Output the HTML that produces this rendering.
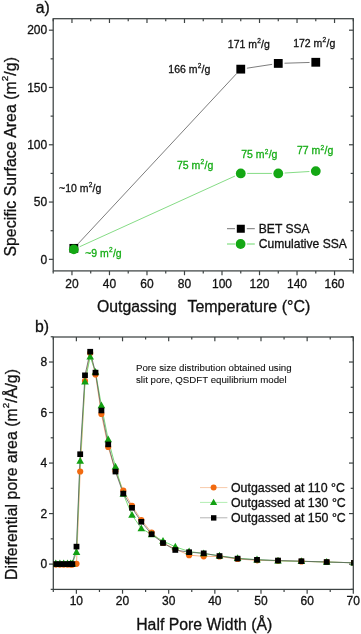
<!DOCTYPE html>
<html><head><meta charset="utf-8"><style>
html,body{margin:0;padding:0;background:#fff;overflow:hidden;}
svg{display:block;will-change:transform;}
text{font-family:"Liberation Sans", sans-serif;stroke-width:0.3px;stroke:#111;}
text.gr{fill:#17ad17;stroke:#17ad17;}
</style></head><body>
<svg width="361" height="634" viewBox="0 0 361 634">
<rect width="361" height="634" fill="#fff"/><g fill="#111" color="#111">
<rect x="53.2" y="18.7" width="300.10" height="252.20" fill="none" stroke="#3d4343" stroke-width="1.25"/>
<line x1="53.20" y1="270.9" x2="53.20" y2="273.5" stroke="#3d4343" stroke-width="1.2"/>
<line x1="53.20" y1="18.7" x2="53.20" y2="21.3" stroke="#3d4343" stroke-width="1.2"/>
<line x1="71.96" y1="270.9" x2="71.96" y2="275.2" stroke="#3d4343" stroke-width="1.2"/>
<line x1="71.96" y1="18.7" x2="71.96" y2="23.0" stroke="#3d4343" stroke-width="1.2"/>
<text x="71.96" y="287.6" font-size="12" text-anchor="middle">20</text>
<line x1="90.71" y1="270.9" x2="90.71" y2="273.5" stroke="#3d4343" stroke-width="1.2"/>
<line x1="90.71" y1="18.7" x2="90.71" y2="21.3" stroke="#3d4343" stroke-width="1.2"/>
<line x1="109.47" y1="270.9" x2="109.47" y2="275.2" stroke="#3d4343" stroke-width="1.2"/>
<line x1="109.47" y1="18.7" x2="109.47" y2="23.0" stroke="#3d4343" stroke-width="1.2"/>
<text x="109.47" y="287.6" font-size="12" text-anchor="middle">40</text>
<line x1="128.22" y1="270.9" x2="128.22" y2="273.5" stroke="#3d4343" stroke-width="1.2"/>
<line x1="128.22" y1="18.7" x2="128.22" y2="21.3" stroke="#3d4343" stroke-width="1.2"/>
<line x1="146.98" y1="270.9" x2="146.98" y2="275.2" stroke="#3d4343" stroke-width="1.2"/>
<line x1="146.98" y1="18.7" x2="146.98" y2="23.0" stroke="#3d4343" stroke-width="1.2"/>
<text x="146.98" y="287.6" font-size="12" text-anchor="middle">60</text>
<line x1="165.74" y1="270.9" x2="165.74" y2="273.5" stroke="#3d4343" stroke-width="1.2"/>
<line x1="165.74" y1="18.7" x2="165.74" y2="21.3" stroke="#3d4343" stroke-width="1.2"/>
<line x1="184.49" y1="270.9" x2="184.49" y2="275.2" stroke="#3d4343" stroke-width="1.2"/>
<line x1="184.49" y1="18.7" x2="184.49" y2="23.0" stroke="#3d4343" stroke-width="1.2"/>
<text x="184.49" y="287.6" font-size="12" text-anchor="middle">80</text>
<line x1="203.25" y1="270.9" x2="203.25" y2="273.5" stroke="#3d4343" stroke-width="1.2"/>
<line x1="203.25" y1="18.7" x2="203.25" y2="21.3" stroke="#3d4343" stroke-width="1.2"/>
<line x1="222.00" y1="270.9" x2="222.00" y2="275.2" stroke="#3d4343" stroke-width="1.2"/>
<line x1="222.00" y1="18.7" x2="222.00" y2="23.0" stroke="#3d4343" stroke-width="1.2"/>
<text x="222.00" y="287.6" font-size="12" text-anchor="middle">100</text>
<line x1="240.76" y1="270.9" x2="240.76" y2="273.5" stroke="#3d4343" stroke-width="1.2"/>
<line x1="240.76" y1="18.7" x2="240.76" y2="21.3" stroke="#3d4343" stroke-width="1.2"/>
<line x1="259.52" y1="270.9" x2="259.52" y2="275.2" stroke="#3d4343" stroke-width="1.2"/>
<line x1="259.52" y1="18.7" x2="259.52" y2="23.0" stroke="#3d4343" stroke-width="1.2"/>
<text x="259.52" y="287.6" font-size="12" text-anchor="middle">120</text>
<line x1="278.27" y1="270.9" x2="278.27" y2="273.5" stroke="#3d4343" stroke-width="1.2"/>
<line x1="278.27" y1="18.7" x2="278.27" y2="21.3" stroke="#3d4343" stroke-width="1.2"/>
<line x1="297.03" y1="270.9" x2="297.03" y2="275.2" stroke="#3d4343" stroke-width="1.2"/>
<line x1="297.03" y1="18.7" x2="297.03" y2="23.0" stroke="#3d4343" stroke-width="1.2"/>
<text x="297.03" y="287.6" font-size="12" text-anchor="middle">140</text>
<line x1="315.78" y1="270.9" x2="315.78" y2="273.5" stroke="#3d4343" stroke-width="1.2"/>
<line x1="315.78" y1="18.7" x2="315.78" y2="21.3" stroke="#3d4343" stroke-width="1.2"/>
<line x1="334.54" y1="270.9" x2="334.54" y2="275.2" stroke="#3d4343" stroke-width="1.2"/>
<line x1="334.54" y1="18.7" x2="334.54" y2="23.0" stroke="#3d4343" stroke-width="1.2"/>
<text x="334.54" y="287.6" font-size="12" text-anchor="middle">160</text>
<line x1="353.30" y1="270.9" x2="353.30" y2="273.5" stroke="#3d4343" stroke-width="1.2"/>
<line x1="353.30" y1="18.7" x2="353.30" y2="21.3" stroke="#3d4343" stroke-width="1.2"/>
<line x1="48.900000000000006" y1="259.35" x2="53.2" y2="259.35" stroke="#3d4343" stroke-width="1.2"/>
<line x1="349.0" y1="259.35" x2="353.3" y2="259.35" stroke="#3d4343" stroke-width="1.2"/>
<text x="47.2" y="263.65" font-size="12" text-anchor="end">0</text>
<line x1="50.6" y1="230.71" x2="53.2" y2="230.71" stroke="#3d4343" stroke-width="1.2"/>
<line x1="350.7" y1="230.71" x2="353.3" y2="230.71" stroke="#3d4343" stroke-width="1.2"/>
<line x1="48.900000000000006" y1="202.06" x2="53.2" y2="202.06" stroke="#3d4343" stroke-width="1.2"/>
<line x1="349.0" y1="202.06" x2="353.3" y2="202.06" stroke="#3d4343" stroke-width="1.2"/>
<text x="47.2" y="206.36" font-size="12" text-anchor="end">50</text>
<line x1="50.6" y1="173.42" x2="53.2" y2="173.42" stroke="#3d4343" stroke-width="1.2"/>
<line x1="350.7" y1="173.42" x2="353.3" y2="173.42" stroke="#3d4343" stroke-width="1.2"/>
<line x1="48.900000000000006" y1="144.77" x2="53.2" y2="144.77" stroke="#3d4343" stroke-width="1.2"/>
<line x1="349.0" y1="144.77" x2="353.3" y2="144.77" stroke="#3d4343" stroke-width="1.2"/>
<text x="47.2" y="149.07" font-size="12" text-anchor="end">100</text>
<line x1="50.6" y1="116.13" x2="53.2" y2="116.13" stroke="#3d4343" stroke-width="1.2"/>
<line x1="350.7" y1="116.13" x2="353.3" y2="116.13" stroke="#3d4343" stroke-width="1.2"/>
<line x1="48.900000000000006" y1="87.48" x2="53.2" y2="87.48" stroke="#3d4343" stroke-width="1.2"/>
<line x1="349.0" y1="87.48" x2="353.3" y2="87.48" stroke="#3d4343" stroke-width="1.2"/>
<text x="47.2" y="91.78" font-size="12" text-anchor="end">150</text>
<line x1="50.6" y1="58.84" x2="53.2" y2="58.84" stroke="#3d4343" stroke-width="1.2"/>
<line x1="350.7" y1="58.84" x2="353.3" y2="58.84" stroke="#3d4343" stroke-width="1.2"/>
<line x1="48.900000000000006" y1="30.19" x2="53.2" y2="30.19" stroke="#3d4343" stroke-width="1.2"/>
<line x1="349.0" y1="30.19" x2="353.3" y2="30.19" stroke="#3d4343" stroke-width="1.2"/>
<text x="47.2" y="34.49" font-size="12" text-anchor="end">200</text>
<line x1="78.06" y1="243.81" x2="236.53" y2="73.68" stroke="#6e6e6e" stroke-width="0.9"/>
<line x1="246.89" y1="68.21" x2="272.14" y2="64.35" stroke="#6e6e6e" stroke-width="0.9"/>
<line x1="284.47" y1="63.23" x2="309.59" y2="62.46" stroke="#6e6e6e" stroke-width="0.9"/>
<line x1="79.66" y1="246.73" x2="234.93" y2="176.07" stroke="#86dc86" stroke-width="1.0"/>
<line x1="247.16" y1="173.42" x2="271.87" y2="173.42" stroke="#86dc86" stroke-width="1.0"/>
<line x1="284.66" y1="173.02" x2="309.40" y2="171.51" stroke="#86dc86" stroke-width="1.0"/>
<rect x="69.43" y="243.95" width="8.8" height="8.8" fill="#000"/>
<rect x="236.36" y="64.75" width="8.8" height="8.8" fill="#000"/>
<rect x="273.87" y="59.02" width="8.8" height="8.8" fill="#000"/>
<rect x="311.38" y="57.87" width="8.8" height="8.8" fill="#000"/>
<circle cx="73.83" cy="249.38" r="4.9" fill="#14a814"/>
<circle cx="240.76" cy="173.42" r="4.9" fill="#14a814"/>
<circle cx="278.27" cy="173.42" r="4.9" fill="#14a814"/>
<circle cx="315.78" cy="171.12" r="4.9" fill="#14a814"/>
<text x="59.0" y="192.3" font-size="10.5">~10 m<tspan font-size="6.51" dy="-4.9" dx="0.2">2</tspan><tspan dy="4.9" dx="0.3">/g</tspan></text>
<text x="168.3" y="73.3" font-size="10.5">166 m<tspan font-size="6.51" dy="-4.9" dx="0.2">2</tspan><tspan dy="4.9" dx="0.3">/g</tspan></text>
<text x="227.8" y="47.6" font-size="10.5">171 m<tspan font-size="6.51" dy="-4.9" dx="0.2">2</tspan><tspan dy="4.9" dx="0.3">/g</tspan></text>
<text x="293.2" y="47.2" font-size="10.5">172 m<tspan font-size="6.51" dy="-4.9" dx="0.2">2</tspan><tspan dy="4.9" dx="0.3">/g</tspan></text>
<text class="gr" x="85.2" y="257.2" font-size="10.5">~9 m<tspan font-size="6.51" dy="-4.9" dx="0.2">2</tspan><tspan dy="4.9" dx="0.3">/g</tspan></text>
<text class="gr" x="177.0" y="169.3" font-size="10.5">75 m<tspan font-size="6.51" dy="-4.9" dx="0.2">2</tspan><tspan dy="4.9" dx="0.3">/g</tspan></text>
<text class="gr" x="241.2" y="158.4" font-size="10.5">75 m<tspan font-size="6.51" dy="-4.9" dx="0.2">2</tspan><tspan dy="4.9" dx="0.3">/g</tspan></text>
<text class="gr" x="297.0" y="154.4" font-size="10.5">77 m<tspan font-size="6.51" dy="-4.9" dx="0.2">2</tspan><tspan dy="4.9" dx="0.3">/g</tspan></text>
<line x1="227" y1="228.7" x2="235" y2="228.7" stroke="#777" stroke-width="1"/>
<line x1="246.8" y1="228.7" x2="254.8" y2="228.7" stroke="#777" stroke-width="1"/>
<rect x="236.8" y="224.75" width="8" height="8" fill="#000"/>
<line x1="227" y1="244" x2="235" y2="244" stroke="#6ad86a" stroke-width="1"/>
<line x1="246.8" y1="244" x2="254.8" y2="244" stroke="#6ad86a" stroke-width="1"/>
<circle cx="240.6" cy="244" r="4.9" fill="#14a814"/>
<text x="258.8" y="232.6" font-size="12.1">BET SSA</text>
<text x="258.8" y="248.2" font-size="12.1">Cumulative SSA</text>
<text x="35.8" y="13.4" font-size="15.8">a)</text>
<text x="97" y="311.9" font-size="15.8">Outgassing</text>
<text x="187.4" y="311.9" font-size="16.0">Temperature (°C)</text>
<text transform="translate(15.6,256.6) rotate(-90)" font-size="15.8" textLength="199.5" lengthAdjust="spacing">Specific Surface Area (m<tspan font-size="9.8" dy="-7.3">2</tspan><tspan dy="7.3">/g)</tspan></text>
<rect x="53.3" y="337.0" width="300.00" height="252.40" fill="none" stroke="#3d4343" stroke-width="1.25"/>
<line x1="53.30" y1="589.4" x2="53.30" y2="592.0" stroke="#3d4343" stroke-width="1.2"/>
<line x1="53.30" y1="337.0" x2="53.30" y2="339.6" stroke="#3d4343" stroke-width="1.2"/>
<line x1="76.38" y1="589.4" x2="76.38" y2="593.6999999999999" stroke="#3d4343" stroke-width="1.2"/>
<line x1="76.38" y1="337.0" x2="76.38" y2="341.3" stroke="#3d4343" stroke-width="1.2"/>
<text x="76.38" y="605.2" font-size="12" text-anchor="middle">10</text>
<line x1="99.45" y1="589.4" x2="99.45" y2="592.0" stroke="#3d4343" stroke-width="1.2"/>
<line x1="99.45" y1="337.0" x2="99.45" y2="339.6" stroke="#3d4343" stroke-width="1.2"/>
<line x1="122.53" y1="589.4" x2="122.53" y2="593.6999999999999" stroke="#3d4343" stroke-width="1.2"/>
<line x1="122.53" y1="337.0" x2="122.53" y2="341.3" stroke="#3d4343" stroke-width="1.2"/>
<text x="122.53" y="605.2" font-size="12" text-anchor="middle">20</text>
<line x1="145.61" y1="589.4" x2="145.61" y2="592.0" stroke="#3d4343" stroke-width="1.2"/>
<line x1="145.61" y1="337.0" x2="145.61" y2="339.6" stroke="#3d4343" stroke-width="1.2"/>
<line x1="168.69" y1="589.4" x2="168.69" y2="593.6999999999999" stroke="#3d4343" stroke-width="1.2"/>
<line x1="168.69" y1="337.0" x2="168.69" y2="341.3" stroke="#3d4343" stroke-width="1.2"/>
<text x="168.69" y="605.2" font-size="12" text-anchor="middle">30</text>
<line x1="191.76" y1="589.4" x2="191.76" y2="592.0" stroke="#3d4343" stroke-width="1.2"/>
<line x1="191.76" y1="337.0" x2="191.76" y2="339.6" stroke="#3d4343" stroke-width="1.2"/>
<line x1="214.84" y1="589.4" x2="214.84" y2="593.6999999999999" stroke="#3d4343" stroke-width="1.2"/>
<line x1="214.84" y1="337.0" x2="214.84" y2="341.3" stroke="#3d4343" stroke-width="1.2"/>
<text x="214.84" y="605.2" font-size="12" text-anchor="middle">40</text>
<line x1="237.92" y1="589.4" x2="237.92" y2="592.0" stroke="#3d4343" stroke-width="1.2"/>
<line x1="237.92" y1="337.0" x2="237.92" y2="339.6" stroke="#3d4343" stroke-width="1.2"/>
<line x1="260.99" y1="589.4" x2="260.99" y2="593.6999999999999" stroke="#3d4343" stroke-width="1.2"/>
<line x1="260.99" y1="337.0" x2="260.99" y2="341.3" stroke="#3d4343" stroke-width="1.2"/>
<text x="260.99" y="605.2" font-size="12" text-anchor="middle">50</text>
<line x1="284.07" y1="589.4" x2="284.07" y2="592.0" stroke="#3d4343" stroke-width="1.2"/>
<line x1="284.07" y1="337.0" x2="284.07" y2="339.6" stroke="#3d4343" stroke-width="1.2"/>
<line x1="307.15" y1="589.4" x2="307.15" y2="593.6999999999999" stroke="#3d4343" stroke-width="1.2"/>
<line x1="307.15" y1="337.0" x2="307.15" y2="341.3" stroke="#3d4343" stroke-width="1.2"/>
<text x="307.15" y="605.2" font-size="12" text-anchor="middle">60</text>
<line x1="330.22" y1="589.4" x2="330.22" y2="592.0" stroke="#3d4343" stroke-width="1.2"/>
<line x1="330.22" y1="337.0" x2="330.22" y2="339.6" stroke="#3d4343" stroke-width="1.2"/>
<line x1="353.30" y1="589.4" x2="353.30" y2="593.6999999999999" stroke="#3d4343" stroke-width="1.2"/>
<line x1="353.30" y1="337.0" x2="353.30" y2="341.3" stroke="#3d4343" stroke-width="1.2"/>
<text x="353.30" y="605.2" font-size="12" text-anchor="middle">70</text>
<line x1="50.699999999999996" y1="589.36" x2="53.3" y2="589.36" stroke="#3d4343" stroke-width="1.2"/>
<line x1="350.7" y1="589.36" x2="353.3" y2="589.36" stroke="#3d4343" stroke-width="1.2"/>
<line x1="49.0" y1="564.10" x2="53.3" y2="564.10" stroke="#3d4343" stroke-width="1.2"/>
<line x1="349.0" y1="564.10" x2="353.3" y2="564.10" stroke="#3d4343" stroke-width="1.2"/>
<text x="47.2" y="568.40" font-size="12" text-anchor="end">0</text>
<line x1="50.699999999999996" y1="538.84" x2="53.3" y2="538.84" stroke="#3d4343" stroke-width="1.2"/>
<line x1="350.7" y1="538.84" x2="353.3" y2="538.84" stroke="#3d4343" stroke-width="1.2"/>
<line x1="49.0" y1="513.58" x2="53.3" y2="513.58" stroke="#3d4343" stroke-width="1.2"/>
<line x1="349.0" y1="513.58" x2="353.3" y2="513.58" stroke="#3d4343" stroke-width="1.2"/>
<text x="47.2" y="517.88" font-size="12" text-anchor="end">2</text>
<line x1="50.699999999999996" y1="488.32" x2="53.3" y2="488.32" stroke="#3d4343" stroke-width="1.2"/>
<line x1="350.7" y1="488.32" x2="353.3" y2="488.32" stroke="#3d4343" stroke-width="1.2"/>
<line x1="49.0" y1="463.06" x2="53.3" y2="463.06" stroke="#3d4343" stroke-width="1.2"/>
<line x1="349.0" y1="463.06" x2="353.3" y2="463.06" stroke="#3d4343" stroke-width="1.2"/>
<text x="47.2" y="467.36" font-size="12" text-anchor="end">4</text>
<line x1="50.699999999999996" y1="437.80" x2="53.3" y2="437.80" stroke="#3d4343" stroke-width="1.2"/>
<line x1="350.7" y1="437.80" x2="353.3" y2="437.80" stroke="#3d4343" stroke-width="1.2"/>
<line x1="49.0" y1="412.54" x2="53.3" y2="412.54" stroke="#3d4343" stroke-width="1.2"/>
<line x1="349.0" y1="412.54" x2="353.3" y2="412.54" stroke="#3d4343" stroke-width="1.2"/>
<text x="47.2" y="416.84" font-size="12" text-anchor="end">6</text>
<line x1="50.699999999999996" y1="387.28" x2="53.3" y2="387.28" stroke="#3d4343" stroke-width="1.2"/>
<line x1="350.7" y1="387.28" x2="353.3" y2="387.28" stroke="#3d4343" stroke-width="1.2"/>
<line x1="49.0" y1="362.02" x2="53.3" y2="362.02" stroke="#3d4343" stroke-width="1.2"/>
<line x1="349.0" y1="362.02" x2="353.3" y2="362.02" stroke="#3d4343" stroke-width="1.2"/>
<text x="47.2" y="366.32" font-size="12" text-anchor="end">8</text>
<line x1="50.699999999999996" y1="336.76" x2="53.3" y2="336.76" stroke="#3d4343" stroke-width="1.2"/>
<line x1="350.7" y1="336.76" x2="353.3" y2="336.76" stroke="#3d4343" stroke-width="1.2"/>
<clipPath id="cb"><rect x="53.3" y="337" width="299.6" height="252.4"/></clipPath>
<g clip-path="url(#cb)">
<polyline points="55.80,564.60 59.90,564.60 63.70,564.60 67.50,564.60 70.60,564.60 72.30,564.60 76.50,563.80 80.20,471.50 85.00,381.00 90.20,353.00 95.50,374.50 101.40,414.00 108.20,447.00 115.50,471.00 123.30,490.50 132.00,505.80 141.30,520.00 151.60,532.50 163.00,543.00 175.30,549.00 189.10,555.20 203.70,556.30 219.50,556.50 237.60,559.00 257.00,560.30 278.00,560.80 301.40,561.40 326.70,562.00 354.00,562.80" fill="none" stroke="#f4ac7a" stroke-width="0.9"/>
<polyline points="55.80,563.60 59.90,563.60 63.70,563.60 67.50,563.60 70.60,563.60 72.30,563.60 76.50,552.20 80.20,461.00 85.00,381.80 90.20,356.70 95.50,372.00 101.40,405.50 108.20,439.50 115.50,466.80 123.30,494.00 132.00,515.00 141.30,528.40 151.60,534.50 163.00,541.00 175.30,546.80 189.10,551.50 203.70,553.50 219.50,555.80 237.60,558.30 257.00,559.60 278.00,560.80 301.40,561.30 326.70,562.00 354.00,562.80" fill="none" stroke="#6ad86a" stroke-width="0.9"/>
<polyline points="55.80,564.10 59.90,564.10 63.70,564.10 67.50,564.10 70.60,564.10 72.30,564.10 76.50,546.60 80.20,454.20 85.00,375.30 90.20,351.70 95.50,372.60 101.40,410.50 108.20,444.40 115.50,471.60 123.30,493.60 132.00,507.80 141.30,521.80 151.60,534.20 163.00,543.00 175.30,550.00 189.10,552.20 203.70,553.30 219.50,556.00 237.60,558.60 257.00,559.80 278.00,560.50 301.40,561.20 326.70,562.00 354.00,562.80" fill="none" stroke="#5a5a5a" stroke-width="0.8"/>
<circle cx="55.80" cy="564.60" r="3.1" fill="#f26a10"/>
<circle cx="59.90" cy="564.60" r="3.1" fill="#f26a10"/>
<circle cx="63.70" cy="564.60" r="3.1" fill="#f26a10"/>
<circle cx="67.50" cy="564.60" r="3.1" fill="#f26a10"/>
<circle cx="70.60" cy="564.60" r="3.1" fill="#f26a10"/>
<circle cx="72.30" cy="564.60" r="3.1" fill="#f26a10"/>
<circle cx="76.50" cy="563.80" r="3.1" fill="#f26a10"/>
<circle cx="80.20" cy="471.50" r="3.1" fill="#f26a10"/>
<circle cx="85.00" cy="381.00" r="3.1" fill="#f26a10"/>
<circle cx="90.20" cy="353.00" r="3.1" fill="#f26a10"/>
<circle cx="95.50" cy="374.50" r="3.1" fill="#f26a10"/>
<circle cx="101.40" cy="414.00" r="3.1" fill="#f26a10"/>
<circle cx="108.20" cy="447.00" r="3.1" fill="#f26a10"/>
<circle cx="115.50" cy="471.00" r="3.1" fill="#f26a10"/>
<circle cx="123.30" cy="490.50" r="3.1" fill="#f26a10"/>
<circle cx="132.00" cy="505.80" r="3.1" fill="#f26a10"/>
<circle cx="141.30" cy="520.00" r="3.1" fill="#f26a10"/>
<circle cx="151.60" cy="532.50" r="3.1" fill="#f26a10"/>
<circle cx="163.00" cy="543.00" r="3.1" fill="#f26a10"/>
<circle cx="175.30" cy="549.00" r="3.1" fill="#f26a10"/>
<circle cx="189.10" cy="555.20" r="3.1" fill="#f26a10"/>
<circle cx="203.70" cy="556.30" r="3.1" fill="#f26a10"/>
<circle cx="219.50" cy="556.50" r="3.1" fill="#f26a10"/>
<circle cx="237.60" cy="559.00" r="3.1" fill="#f26a10"/>
<circle cx="257.00" cy="560.30" r="3.1" fill="#f26a10"/>
<circle cx="278.00" cy="560.80" r="3.1" fill="#f26a10"/>
<circle cx="301.40" cy="561.40" r="3.1" fill="#f26a10"/>
<circle cx="326.70" cy="562.00" r="3.1" fill="#f26a10"/>
<circle cx="354.00" cy="562.80" r="3.1" fill="#f26a10"/>
<path d="M55.80,559.60 L59.60,566.40 L52.00,566.40 Z" fill="#12a012"/>
<path d="M59.90,559.60 L63.70,566.40 L56.10,566.40 Z" fill="#12a012"/>
<path d="M63.70,559.60 L67.50,566.40 L59.90,566.40 Z" fill="#12a012"/>
<path d="M67.50,559.60 L71.30,566.40 L63.70,566.40 Z" fill="#12a012"/>
<path d="M70.60,559.60 L74.40,566.40 L66.80,566.40 Z" fill="#12a012"/>
<path d="M72.30,559.60 L76.10,566.40 L68.50,566.40 Z" fill="#12a012"/>
<path d="M76.50,548.20 L80.30,555.00 L72.70,555.00 Z" fill="#12a012"/>
<path d="M80.20,457.00 L84.00,463.80 L76.40,463.80 Z" fill="#12a012"/>
<path d="M85.00,377.80 L88.80,384.60 L81.20,384.60 Z" fill="#12a012"/>
<path d="M90.20,352.70 L94.00,359.50 L86.40,359.50 Z" fill="#12a012"/>
<path d="M95.50,368.00 L99.30,374.80 L91.70,374.80 Z" fill="#12a012"/>
<path d="M101.40,401.50 L105.20,408.30 L97.60,408.30 Z" fill="#12a012"/>
<path d="M108.20,435.50 L112.00,442.30 L104.40,442.30 Z" fill="#12a012"/>
<path d="M115.50,462.80 L119.30,469.60 L111.70,469.60 Z" fill="#12a012"/>
<path d="M123.30,490.00 L127.10,496.80 L119.50,496.80 Z" fill="#12a012"/>
<path d="M132.00,511.00 L135.80,517.80 L128.20,517.80 Z" fill="#12a012"/>
<path d="M141.30,524.40 L145.10,531.20 L137.50,531.20 Z" fill="#12a012"/>
<path d="M151.60,530.50 L155.40,537.30 L147.80,537.30 Z" fill="#12a012"/>
<path d="M163.00,537.00 L166.80,543.80 L159.20,543.80 Z" fill="#12a012"/>
<path d="M175.30,542.80 L179.10,549.60 L171.50,549.60 Z" fill="#12a012"/>
<path d="M189.10,547.50 L192.90,554.30 L185.30,554.30 Z" fill="#12a012"/>
<path d="M203.70,549.50 L207.50,556.30 L199.90,556.30 Z" fill="#12a012"/>
<path d="M219.50,551.80 L223.30,558.60 L215.70,558.60 Z" fill="#12a012"/>
<path d="M237.60,554.30 L241.40,561.10 L233.80,561.10 Z" fill="#12a012"/>
<path d="M257.00,555.60 L260.80,562.40 L253.20,562.40 Z" fill="#12a012"/>
<path d="M278.00,556.80 L281.80,563.60 L274.20,563.60 Z" fill="#12a012"/>
<path d="M301.40,557.30 L305.20,564.10 L297.60,564.10 Z" fill="#12a012"/>
<path d="M326.70,558.00 L330.50,564.80 L322.90,564.80 Z" fill="#12a012"/>
<path d="M354.00,558.80 L357.80,565.60 L350.20,565.60 Z" fill="#12a012"/>
<rect x="52.90" y="561.30" width="5.8" height="5.6" fill="#000"/>
<rect x="57.00" y="561.30" width="5.8" height="5.6" fill="#000"/>
<rect x="60.80" y="561.30" width="5.8" height="5.6" fill="#000"/>
<rect x="64.60" y="561.30" width="5.8" height="5.6" fill="#000"/>
<rect x="67.70" y="561.30" width="5.8" height="5.6" fill="#000"/>
<rect x="69.40" y="561.30" width="5.8" height="5.6" fill="#000"/>
<rect x="73.60" y="543.80" width="5.8" height="5.6" fill="#000"/>
<rect x="77.30" y="451.40" width="5.8" height="5.6" fill="#000"/>
<rect x="82.10" y="372.50" width="5.8" height="5.6" fill="#000"/>
<rect x="87.30" y="348.90" width="5.8" height="5.6" fill="#000"/>
<rect x="92.60" y="369.80" width="5.8" height="5.6" fill="#000"/>
<rect x="98.50" y="407.70" width="5.8" height="5.6" fill="#000"/>
<rect x="105.30" y="441.60" width="5.8" height="5.6" fill="#000"/>
<rect x="112.60" y="468.80" width="5.8" height="5.6" fill="#000"/>
<rect x="120.40" y="490.80" width="5.8" height="5.6" fill="#000"/>
<rect x="129.10" y="505.00" width="5.8" height="5.6" fill="#000"/>
<rect x="138.40" y="519.00" width="5.8" height="5.6" fill="#000"/>
<rect x="148.70" y="531.40" width="5.8" height="5.6" fill="#000"/>
<rect x="160.10" y="540.20" width="5.8" height="5.6" fill="#000"/>
<rect x="172.40" y="547.20" width="5.8" height="5.6" fill="#000"/>
<rect x="186.20" y="549.40" width="5.8" height="5.6" fill="#000"/>
<rect x="200.80" y="550.50" width="5.8" height="5.6" fill="#000"/>
<rect x="216.60" y="553.20" width="5.8" height="5.6" fill="#000"/>
<rect x="234.70" y="555.80" width="5.8" height="5.6" fill="#000"/>
<rect x="254.10" y="557.00" width="5.8" height="5.6" fill="#000"/>
<rect x="275.10" y="557.70" width="5.8" height="5.6" fill="#000"/>
<rect x="298.50" y="558.40" width="5.8" height="5.6" fill="#000"/>
<rect x="323.80" y="559.20" width="5.8" height="5.6" fill="#000"/>
<rect x="351.10" y="560.00" width="5.8" height="5.6" fill="#000"/>
</g>
<text x="136" y="371.3" font-size="9.7" textLength="155.6" lengthAdjust="spacing" style="stroke-width:0.1px">Pore size distribution obtained using</text>
<text x="136" y="383.3" font-size="9.7" textLength="150.6" lengthAdjust="spacing" style="stroke-width:0.1px">slit pore, QSDFT equilibrium model</text>
<line x1="200" y1="487.6" x2="227.4" y2="487.6" stroke="#f8cbab" stroke-width="1"/>
<circle cx="213.6" cy="487.6" r="3.0" fill="#f26a10"/>
<line x1="200" y1="502.4" x2="227.4" y2="502.4" stroke="#b2eeb2" stroke-width="1"/>
<path d="M213.60,498.80 L217.20,505.00 L210.00,505.00 Z" fill="#12a012"/>
<line x1="200" y1="517.8" x2="227.4" y2="517.8" stroke="#b4b4b4" stroke-width="1"/>
<rect x="211" y="515.2" width="5.4" height="5.4" fill="#000"/>
<text x="231.0" y="491.90" font-size="12.35">Outgassed at 110 °C</text>
<text x="231.0" y="506.70" font-size="12.35">Outgassed at 130 °C</text>
<text x="231.0" y="522.10" font-size="12.35">Outgassed at 150 °C</text>
<text x="35" y="331.5" font-size="15.8">b)</text>
<text x="136.2" y="629.6" font-size="15.8">Half Pore Width (Å)</text>
<text transform="translate(16.5,579.9) rotate(-90)" font-size="15.8" textLength="210.9" lengthAdjust="spacing">Differential pore area (m<tspan font-size="9.8" dy="-7.3">2</tspan><tspan dy="7.3">/Å/g)</tspan></text>
</g></svg></body></html>
